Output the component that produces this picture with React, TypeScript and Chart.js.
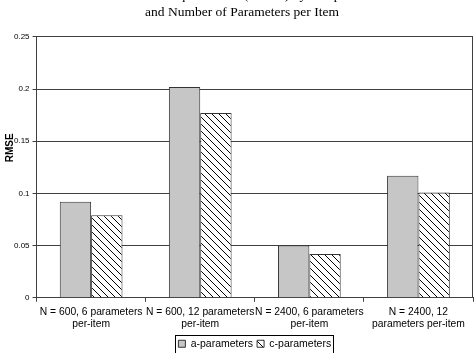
import React, { useEffect, useRef } from "react";
import { Chart, registerables } from "chart.js";

Chart.register(...registerables);

const titleLines = [
  "Root Mean Square Error (RMSE) by Sample Size",
  "and Number of Parameters per Item",
];
const categories = [
  ["N = 600, 6 parameters", "per-item"],
  ["N = 600, 12 parameters", "per-item"],
  ["N = 2400, 6 parameters", "per-item"],
  ["N = 2400, 12", "parameters per-item"],
];
const seriesNames = ["a-parameters", "c-parameters"];
const aParams = [0.092, 0.202, 0.05, 0.117];
const cParams = [0.079, 0.177, 0.042, 0.101];
const yTicks = [0, 0.05, 0.1, 0.15, 0.2, 0.25];
const yTitle = "RMSE";

function makeHatch(): CanvasPattern | string {
  const s = 7;
  const c = document.createElement("canvas");
  c.width = s;
  c.height = s;
  const g = c.getContext("2d");
  if (!g) return "#fff";
  g.fillStyle = "#ffffff";
  g.fillRect(0, 0, s, s);
  g.strokeStyle = "#000000";
  g.lineWidth = 1;
  g.beginPath();
  g.moveTo(-1, -1);
  g.lineTo(s + 1, s + 1);
  g.moveTo(-1, s - 1);
  g.lineTo(1, s + 1);
  g.moveTo(s - 1, -1);
  g.lineTo(s + 1, 1);
  g.stroke();
  return g.createPattern(c, "repeat") || "#fff";
}

export default function App() {
  const ref = useRef<HTMLCanvasElement>(null);
  useEffect(() => {
    if (!ref.current) return;
    const hatch = makeHatch();
    const framePlugin = {
      id: "frame",
      beforeDatasetsDraw(chart: any) {
        const { ctx, chartArea } = chart;
        ctx.save();
        ctx.strokeStyle = "#404040";
        ctx.lineWidth = 1;
        ctx.beginPath();
        ctx.moveTo(Math.round(chartArea.right) - 0.5, chartArea.top);
        ctx.lineTo(Math.round(chartArea.right) - 0.5, chartArea.bottom);
        ctx.stroke();
        ctx.restore();
      },
      afterDraw(chart: any) {
        const { ctx, chartArea } = chart;
        const lg = chart.legend;
        if (lg && lg.legendHitBoxes && lg.legendHitBoxes.length) {
          const hb = lg.legendHitBoxes;
          let l = Infinity, r = -Infinity, t = Infinity, b = -Infinity;
          hb.forEach((h: any) => {
            l = Math.min(l, h.left);
            r = Math.max(r, h.left + h.width);
            t = Math.min(t, h.top);
            b = Math.max(b, h.top + h.height);
          });
          ctx.save();
          ctx.strokeStyle = "#000";
          ctx.lineWidth = 1;
          ctx.strokeRect(Math.round(l - 3) + 0.5, Math.round(t - 4) + 0.5, Math.round(r - l + 5), Math.round(b - t + 7));
          ctx.restore();
        }
        // y-axis title
        ctx.save();
        ctx.translate(10, chartArea.top + (chartArea.bottom - chartArea.top) * 0.425);
        ctx.rotate(-Math.PI / 2);
        ctx.font = "bold 10px 'Liberation Sans', Arial, sans-serif";
        ctx.fillStyle = "#000";
        ctx.textAlign = "center";
        ctx.textBaseline = "middle";
        ctx.fillText(yTitle, 0, 0);
        ctx.restore();
      },
    };
    const chart = new Chart(ref.current, {
      type: "bar",
      data: {
        labels: categories,
        datasets: [
          {
            label: seriesNames[0],
            data: aParams,
            backgroundColor: "#c6c6c6",
            borderColor: "#333333",
            borderWidth: 1,
            barPercentage: 1,
            categoryPercentage: 0.575,
          },
          {
            label: seriesNames[1],
            data: cParams,
            backgroundColor: hatch as any,
            borderColor: "#333333",
            borderWidth: 1,
            barPercentage: 1,
            categoryPercentage: 0.575,
          },
        ],
      },
      options: {
        responsive: false,
        animation: false,
        layout: { padding: { left: 11, right: 1, top: 0, bottom: 1 } },
        plugins: {
          title: {
            display: true,
            text: titleLines,
            color: "#000",
            font: { family: "'Liberation Serif', 'Times New Roman', serif", size: 13.5, weight: "normal", lineHeight: 1.33 },
            padding: { top: 0, bottom: 15 },
          },
          legend: {
            position: "bottom",
            fullSize: false,
            labels: {
              boxWidth: 7,
              boxHeight: 7,
              padding: 4,
              color: "#000",
              font: { family: "'Liberation Sans', Arial, sans-serif", size: 10.5 },
            },
          },
          tooltip: { enabled: false },
        },
        scales: {
          x: {
            grid: { offset: true, drawOnChartArea: false, drawTicks: true, tickLength: 4, color: "#404040" },
            border: { color: "#404040" },
            ticks: {
              color: "#000",
              maxRotation: 0,
              autoSkip: false,
              padding: 4,
              font: { family: "'Liberation Sans', Arial, sans-serif", size: 10.3, lineHeight: 1.2 },
            },
          },
          y: {
            min: 0,
            max: 0.25,
            afterBuildTicks(scale: any) {
              scale.ticks = yTicks.map((v) => ({ value: v }));
            },
            grid: { color: "#404040", tickLength: 4, drawTicks: true },
            border: { color: "#404040" },
            ticks: {
              color: "#000",
              padding: 3,
              font: { family: "'Liberation Sans', Arial, sans-serif", size: 8 },
              callback: (v: any) => String(+Number(v).toFixed(2)),
            },
          },
        },
      },
      plugins: [framePlugin],
    });
    return () => chart.destroy();
  }, []);
  return (
    <div style={{ position: "fixed", left: 0, top: -14, width: 474, height: 374 }}>
      <canvas ref={ref} width={474} height={374} style={{ display: "block" }} />
    </div>
  );
}
